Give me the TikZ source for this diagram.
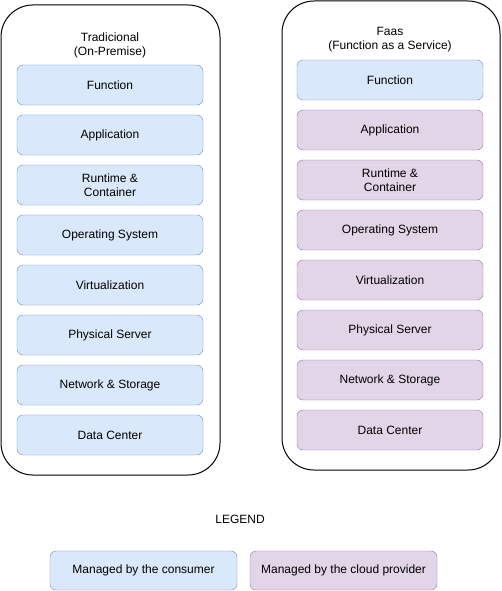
\documentclass[tikz,border=0pt]{standalone}
\usepackage{fontspec}
\setmainfont{Liberation Sans}
\usetikzlibrary{positioning}

\definecolor{consumerfill}{HTML}{DAE8FC}
\definecolor{consumerline}{HTML}{6C8EBF}
\definecolor{providerfill}{HTML}{E1D5E7}
\definecolor{providerline}{HTML}{9673A6}

\tikzset{
  layer/.style={rounded corners=6pt, minimum width=186pt, minimum height=40pt,
    inner sep=0pt, outer sep=0pt, align=center, font=\fontsize{12}{14}\selectfont},
  consumer/.style={layer, draw=consumerline, fill=consumerfill},
  provider/.style={layer, draw=providerline, fill=providerfill},
  stack/.style={draw, line width=1pt, rounded corners=32pt},
  title/.style={align=center, font=\fontsize{12}{14}\selectfont}
}

\begin{document}
\begin{tikzpicture}[x=1pt, y=1pt, node distance=10pt]
\useasboundingbox (0,0) rectangle (501,-591);

% containers
\draw[stack] (1,-5) rectangle (220,-475);
\draw[stack] (282,-1) rectangle (500,-470);

\node[title] (ltitle) at (110,-45) {Tradicional\\(On-Premise)};
\node[title] (rtitle) at (390,-40) {Faas\\(Function as a Service)};

% on-premise stack
\node[consumer] (lfunc) at (110,-85) {Function};
\node[consumer, below=of lfunc] (lapp) {Application};
\node[consumer, below=of lapp] (lrun) {Runtime \&\\Container};
\node[consumer, below=of lrun] (los) {Operating System};
\node[consumer, below=of los] (lvirt) {Virtualization};
\node[consumer, below=of lvirt] (lserver) {Physical Server};
\node[consumer, below=of lserver] (lnet) {Network \& Storage};
\node[consumer, below=of lnet] (ldc) {Data Center};

% faas stack
\node[consumer] (rfunc) at (390,-80) {Function};
\node[provider, below=of rfunc] (rapp) {Application};
\node[provider, below=of rapp] (rrun) {Runtime \&\\Container};
\node[provider, below=of rrun] (ros) {Operating System};
\node[provider, below=of ros] (rvirt) {Virtualization};
\node[provider, below=of rvirt] (rserver) {Physical Server};
\node[provider, below=of rserver] (rnet) {Network \& Storage};
\node[provider, below=of rnet] (rdc) {Data Center};

% legend
\node[title] (legend) at (240,-519) {LEGEND};
\node[consumer, minimum width=187pt, minimum height=39pt] (lgcons) at (143.5,-570.5) {Managed by the consumer};
\node[provider, minimum width=187pt, minimum height=39pt, right=13pt of lgcons] (lgprov) {Managed by the cloud provider};

\end{tikzpicture}
\end{document}
